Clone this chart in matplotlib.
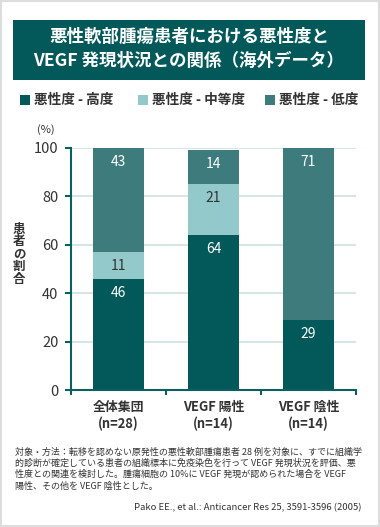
import matplotlib
matplotlib.use("Agg")
import matplotlib.pyplot as plt
from matplotlib.patches import Rectangle

plt.rcParams['font.family'] = ['Noto Sans CJK JP', 'DejaVu Sans']

# data
groups = ["全体集団\n(n=28)", "VEGF 陽性\n(n=14)", "VEGF 陰性\n(n=14)"]
series_names = ["悪性度 - 高度", "悪性度 - 中等度", "悪性度 - 低度"]
high = [46, 64, 29]
mid = [11, 21, 0]
low = [43, 14, 71]
colors = ["#03585a", "#93c9ca", "#3e7b7c"]
label_colors = ["white", "#333333", "white"]

title = "悪性軟部腫瘍患者における悪性度と\nVEGF 発現状況との関係（海外データ）"
note_lines = [
    "対象・方法：転移を認めない原発性の悪性軟部腫瘍患者 28 例を対象に、すでに組織学",
    "的診断が確定している患者の組織標本に免疫染色を行って VEGF 発現状況を評価、悪",
    "性度との関連を検討した。腫瘍細胞の 10%に VEGF 発現が認められた場合を VEGF",
    "陽性、その他を VEGF 陰性とした。",
]
citation = "Pako EE., et al.: Anticancer Res 25, 3591-3596 (2005)"

W, H = 380, 527
fig = plt.figure(figsize=(W / 100, H / 100), dpi=100, facecolor="white")

# outer frame and title box
fig.patches.append(Rectangle((0, 0), 1, 1, transform=fig.transFigure,
                             facecolor="none", edgecolor="#dddddd", linewidth=3))
fig.patches.append(Rectangle((13 / W, 1 - 80 / H), 352 / W, 60 / H, transform=fig.transFigure,
                             facecolor="#03585a", edgecolor="none"))
fig.text(189 / W, 1 - 49 / H, title, ha="center", va="center", color="white",
         fontsize=12.6, fontweight="bold", linespacing=1.45)

# legend
legend_x = [20, 138, 265]
for lx, name, c in zip(legend_x, series_names, colors):
    fig.patches.append(Rectangle((lx / W, 1 - 105 / H), 10 / W, 10 / H, transform=fig.transFigure,
                                 facecolor=c, edgecolor="none"))
    fig.text((lx + 14) / W, 1 - 100 / H, name, ha="left", va="center", color="#333333",
             fontsize=9.8, fontweight="bold")

fig.text(46 / W, 1 - 130 / H, "(%)", ha="center", va="center", color="#333333", fontsize=8)
fig.text(19 / W, 1 - 254 / H, "\n".join("患者の割合"), ha="center", va="center",
         color="#333333", fontsize=9, fontweight="bold", linespacing=0.95)

ax = fig.add_axes([71 / W, 1 - 390 / H, 285 / W, 242 / H])
ax.set_facecolor("none")
x = list(range(len(groups)))
bar_w = 0.53
bottom = [0, 0, 0]
for vals, c, lc in zip([high, mid, low], colors, label_colors):
    ax.bar(x, vals, bar_w, bottom=bottom, color=c, zorder=2)
    for i, v in enumerate(vals):
        if v > 0:
            top = bottom[i] + v
            ax.annotate(str(v), (i, top), xytext=(0, -14), textcoords="offset pixels",
                        ha="center", va="center", color=lc, fontsize=10, zorder=3)
    bottom = [b + v for b, v in zip(bottom, vals)]

ax.set_xlim(-0.5, 2.5)
ax.set_ylim(0, 100)
ax.set_yticks([0, 20, 40, 60, 80, 100])
ax.yaxis.grid(True, color="#d3e3e3", linewidth=1.3, zorder=0)
ax.set_axisbelow(True)

teal = "#0b5f60"
for s in ["top", "right"]:
    ax.spines[s].set_visible(False)
for s in ["left", "bottom"]:
    ax.spines[s].set_color(teal)
    ax.spines[s].set_linewidth(1.5)

ax.tick_params(axis="y", colors=teal, length=4, width=1.5, pad=5, labelsize=10.5,
               labelcolor="#333333")
ax.set_xticks(x)
ax.set_xticklabels(groups, fontsize=9.3, fontweight="bold", color="#333333", linespacing=1.3)
ax.tick_params(axis="x", length=0, pad=7)
ax.set_xticks([-0.5, 0.5, 1.5, 2.5], minor=True)
ax.tick_params(axis="x", which="minor", length=3.5, width=1.5, colors=teal)

# footnote
for k, line in enumerate(note_lines):
    fig.text(15 / W, 1 - (452 + k * 11.3) / H, line, ha="left", va="center",
             color="#333333", fontsize=6.5)
fig.text(362 / W, 1 - 508 / H, citation, ha="right", va="center", color="#333333", fontsize=6.8)

fig.savefig("out.png", dpi=100)
